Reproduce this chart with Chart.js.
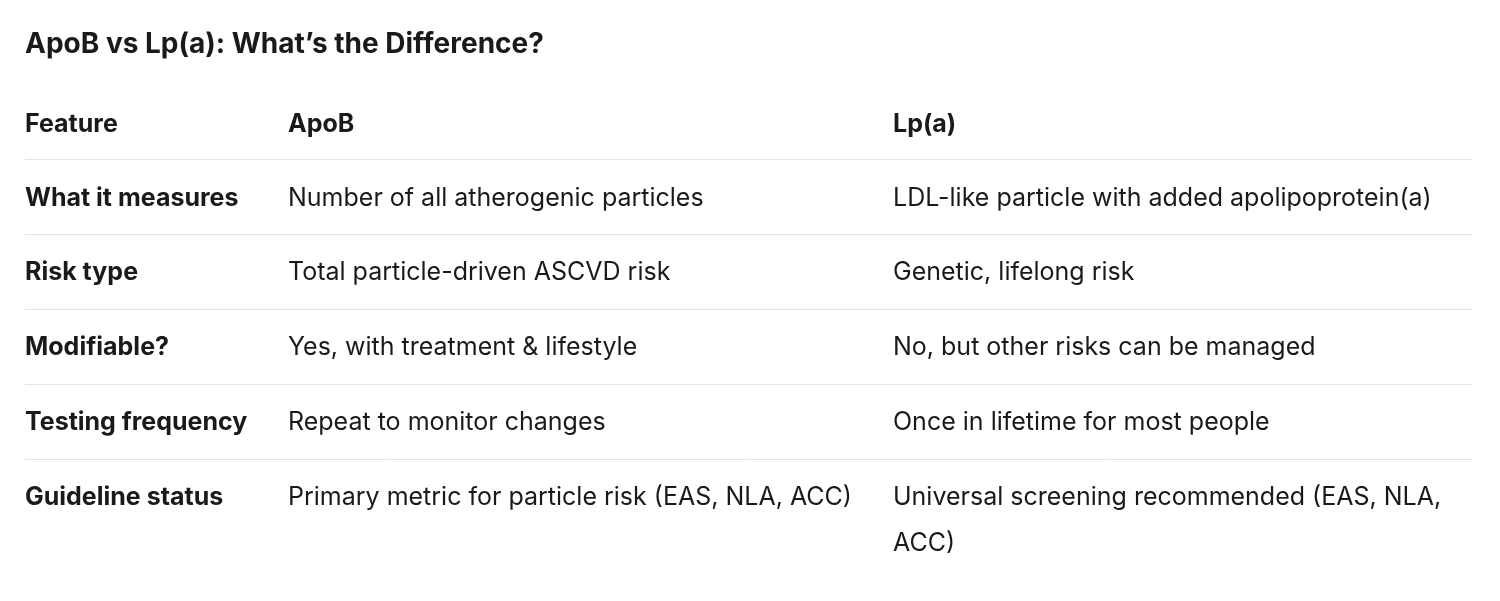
<!DOCTYPE html>
<html><head><meta charset="utf-8">
<script src="https://cdn.jsdelivr.net/npm/chart.js@4"></script>
<style>html,body{margin:0;padding:0;background:#fff}canvas{display:block}</style>
</head><body>
<canvas id="c" width="1500" height="601"></canvas>
<script>
const title = "ApoB vs Lp(a): What’s the Difference?";
const headers = ["Feature", "ApoB", "Lp(a)"];
const features = ["What it measures", "Risk type", "Modifiable?", "Testing frequency", "Guideline status"];
const apoB = ["Number of all atherogenic particles", "Total particle-driven ASCVD risk", "Yes, with treatment & lifestyle", "Repeat to monitor changes", "Primary metric for particle risk (EAS, NLA, ACC)"];
const lpa = ["LDL-like particle with added apolipoprotein(a)", "Genetic, lifelong risk", "No, but other risks can be managed", "Once in lifetime for most people", "Universal screening recommended (EAS, NLA, ACC)"];

const colX = [25, 288, 893];
const colW = [250, 590, 575];
const headerY = 124, firstRowY = 198, rowStep = 74.8;
const FONT = "Inter, 'Open Sans', sans-serif";

const cells = [];
headers.forEach((h,i)=>cells.push({x:colX[i], y:headerY, t:h, bold:true, col:i}));
features.forEach((f,r)=>{
  const y = firstRowY + r*rowStep;
  cells.push({x:colX[0], y, t:f, bold:true, col:0});
  cells.push({x:colX[1], y, t:apoB[r], bold:false, col:1});
  cells.push({x:colX[2], y, t:lpa[r], bold:false, col:2});
});

const tablePlugin = {
  id:'table',
  afterDatasetsDraw(chart){
    const ctx = chart.ctx, xs = chart.scales.x, ys = chart.scales.y;
    ctx.save();
    ctx.fillStyle = '#1a1a1a';
    ctx.textBaseline = 'middle';
    ctx.font = "bold 28px " + FONT;
    ctx.fillText(title, xs.getPixelForValue(25), ys.getPixelForValue(45));
    ctx.strokeStyle = '#e3e3e3'; ctx.lineWidth = 1;
    for (let r=0; r<features.length; r++){
      const yv = (r===0? 159 : firstRowY + (r-0.5)*rowStep - 1);
      const py = Math.round(ys.getPixelForValue(yv))+0.5;
      ctx.beginPath(); ctx.moveTo(xs.getPixelForValue(25), py); ctx.lineTo(xs.getPixelForValue(1472), py); ctx.stroke();
    }
    const ds = chart.data.datasets[0];
    ds.data.forEach(d=>{
      ctx.font = (d.bold? "bold ":"") + "25px " + FONT;
      ctx.fillStyle = '#1a1a1a';
      const px = xs.getPixelForValue(d.x), py = ys.getPixelForValue(d.y);
      const words = d.t.split(' '); let line = '', lines = [];
      words.forEach(w=>{ const test = line? line+' '+w : w;
        if (ctx.measureText(test).width > colW[d.col] && line){ lines.push(line); line = w; } else line = test; });
      lines.push(line);
      lines.forEach((l,i)=>ctx.fillText(l, px, py + i*46));
    });
    ctx.restore();
  }
};

new Chart(document.getElementById('c'), {
  type:'scatter',
  data:{datasets:[{data:cells, pointRadius:0, pointHoverRadius:0}]},
  options:{
    responsive:false, animation:false, devicePixelRatio:1,
    layout:{padding:0},
    plugins:{legend:{display:false}, tooltip:{enabled:false}},
    scales:{
      x:{type:'linear', min:0, max:1500, display:false},
      y:{type:'linear', min:0, max:601, reverse:true, display:false}
    }
  },
  plugins:[tablePlugin]
});
</script>
</body></html>
